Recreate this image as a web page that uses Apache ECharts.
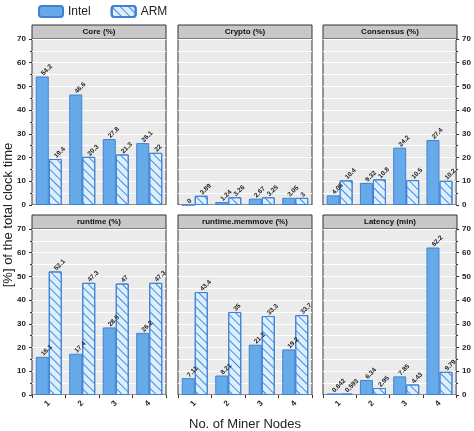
<!DOCTYPE html>
<html><head><meta charset="utf-8">
<script src="https://cdn.jsdelivr.net/npm/echarts@6/dist/echarts.min.js"></script>
<style>html,body{margin:0;padding:0;background:#fff}#c{width:474px;height:431px}</style>
</head><body><div id="c"></div>
<script>
const nodes = ['1', '2', '3', '4'];
const panelTitles = ['Core (%)', 'Crypto (%)', 'Consensus (%)', 'runtime (%)', 'runtime.memmove (%)', 'Latency (min)'];
const intelValues = [
  [54.2, 46.6, 27.8, 26.1],
  [0, 1.24, 2.67, 3.05],
  [4.06, 9.32, 24.2, 27.4],
  [16.1, 17.4, 28.5, 26.2],
  [7.11, 8.21, 21.2, 19.2],
  [0.642, 6.34, 7.85, 62.2]
];
const armValues = [
  [19.4, 20.3, 21.3, 22],
  [3.89, 3.26, 3.25, 3],
  [10.4, 10.8, 10.5, 10.2],
  [52.1, 47.3, 47, 47.3],
  [43.4, 35, 33.3, 33.7],
  [0.593, 2.95, 4.43, 9.79]
];
const yTicks = [0, 10, 20, 30, 40, 50, 60, 70];

const colLeft = [32, 178, 323];
const panelW = 134;
const rowTop = [39, 229];
const plotH = 166;
const stripH = 14;

const chart = echarts.init(document.getElementById('c'));
const grids = [], xAxes = [], yAxes = [], series = [], graphics = [];
const lbl = {
  show: true, position: 'top', rotate: 45, fontSize: 6.5, fontWeight: 'bold',
  color: '#222', fontFamily: 'Liberation Sans', distance: 2, align: 'left', verticalAlign: 'middle'
};

panelTitles.forEach((t, i) => {
  const r = Math.floor(i / 3), c = i % 3;
  const left = colLeft[c], top = rowTop[r];
  grids.push({ left: left, top: top, width: panelW, height: plotH, show: true,
    backgroundColor: '#ebebeb', borderColor: '#333', borderWidth: 1 });
  xAxes.push({ gridIndex: i, type: 'category', data: nodes,
    axisLine: { show: false }, axisTick: { show: r === 1, length: 3, lineStyle: { color: '#333' } },
    axisLabel: { show: r === 1, rotate: 45, fontSize: 8, fontWeight: 'bold', color: '#222', margin: 7 } });
  yAxes.push({ gridIndex: i, type: 'value', min: 0, max: 70, interval: 10,
    position: c === 2 ? 'right' : 'left',
    axisLine: { show: false },
    axisTick: { show: c !== 1, length: 3, lineStyle: { color: '#333' } },
    minorTick: { show: c !== 1, splitNumber: 2, length: 2, lineStyle: { color: '#333' } },
    splitLine: { lineStyle: { color: '#fff', width: 1 } },
    minorSplitLine: { show: true, lineStyle: { color: '#fff', width: 1 } },
    axisLabel: { show: c !== 1, fontSize: 8, fontWeight: 'bold', color: '#222', margin: 6,
      customValues: yTicks } });
  series.push({ name: 'Intel', type: 'bar', xAxisIndex: i, yAxisIndex: i, data: intelValues[i],
    barWidth: 13, barGap: '0%', barCategoryGap: '20%',
    itemStyle: { color: '#67aaea', borderColor: '#3f82d4', borderWidth: 1 },
    label: Object.assign({}, lbl) });
  series.push({ name: 'ARM', type: 'bar', xAxisIndex: i, yAxisIndex: i, data: armValues[i],
    barWidth: 13, barGap: '0%',
    itemStyle: { color: '#dcefff', borderColor: '#3f82d4', borderWidth: 1,
      decal: { symbol: 'rect', color: '#4a8ad8', dashArrayX: [1, 0], dashArrayY: [1, 5], rotation: Math.PI / 4 } },
    label: Object.assign({}, lbl) });
  graphics.push({ type: 'rect', shape: { x: left, y: top - stripH, width: panelW, height: stripH },
    style: { fill: '#c8c8c8', stroke: '#333', lineWidth: 1 } });
  graphics.push({ type: 'text', x: left + panelW / 2, y: top - stripH / 2,
    style: { text: t, fill: '#111', font: 'bold 8px Liberation Sans', align: 'center', verticalAlign: 'middle' } });
});

graphics.push({ type: 'text', x: 245, y: 424, style: { text: 'No. of Miner Nodes', fill: '#222',
  font: '13px Liberation Sans', align: 'center', verticalAlign: 'middle' } });
graphics.push({ type: 'text', x: 8, y: 215, rotation: Math.PI / 2, style: { text: '[%] of the total clock time',
  fill: '#222', font: '13px Liberation Sans', align: 'center', verticalAlign: 'middle' } });

chart.setOption({
  animation: false,
  legend: { left: 33, top: 0, itemWidth: 24, itemHeight: 11, itemGap: 20,
    textStyle: { fontSize: 12, color: '#222', fontFamily: 'Liberation Sans' }, data: ['Intel', 'ARM'] },
  grid: grids, xAxis: xAxes, yAxis: yAxes, series: series, graphic: graphics
});
</script></body></html>
